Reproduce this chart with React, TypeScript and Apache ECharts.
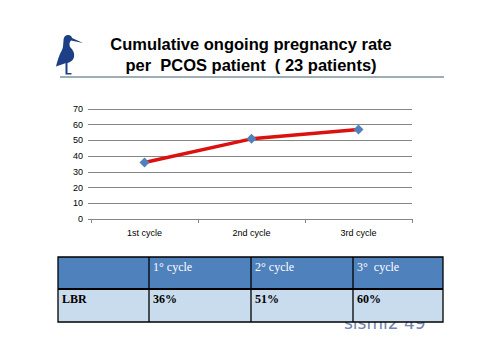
import React, { useEffect, useRef } from "react";
import * as echarts from "echarts";

const categories = ["1st cycle", "2nd cycle", "3rd cycle"];
const rateValues = [36, 51, 57];
const yTicks = { min: 0, max: 70, interval: 10 };
const titleLines = ["Cumulative ongoing pregnancy rate", "per  PCOS patient  ( 23 patients)"];
const tableHeaders = ["", "1° cycle", "2° cycle", "3°  cycle"];
const tableRow = ["LBR", "36%", "51%", "60%"];

const HERON =
  "M68,35 C70.5,35 72,36.5 72,38 L83,43 L71,40.5 C69.5,42 69,44 70,47 C72,49 75,52 74,57 C73,61 69,63 66,63 L56,66.5 C57,62 59,55 62,50 C63.5,47 63,44 63.5,41 C63.5,37 65.5,35 68,35 Z M65.5,62 L67.5,62 L67.5,73 L71.5,73 L71.5,74.5 L65.5,74.5 Z";

let registered = false;
function reg() {
  if (registered) return;
  echarts.graphic.registerShape("heron", echarts.graphic.extendPath(HERON, {}) as any);
  registered = true;
}

export default function App() {
  const ref = useRef<HTMLDivElement>(null);
  useEffect(() => {
    if (!ref.current) return;
    reg();
    const chart = echarts.init(ref.current, undefined, { renderer: "svg" });

    const colX = [58, 149, 251, 353, 443];
    const rowY = [257, 289, 322];
    const tableEls: any[] = [];
    tableEls.push({ type: "rect", shape: { x: colX[0], y: rowY[0], width: colX[4] - colX[0], height: rowY[1] - rowY[0] }, style: { fill: "#4f81bd" } });
    tableEls.push({ type: "rect", shape: { x: colX[0], y: rowY[1], width: colX[4] - colX[0], height: rowY[2] - rowY[1] }, style: { fill: "#c9dcee" } });
    tableEls.push({ type: "rect", shape: { x: colX[0], y: rowY[0], width: colX[4] - colX[0], height: rowY[2] - rowY[0] }, style: { fill: "none", stroke: "#000", lineWidth: 1.3 } });
    tableEls.push({ type: "line", shape: { x1: colX[0], y1: rowY[1], x2: colX[4], y2: rowY[1] }, style: { stroke: "#000", lineWidth: 2 } });
    for (let i = 1; i < 4; i++) {
      tableEls.push({ type: "line", shape: { x1: colX[i], y1: rowY[0], x2: colX[i], y2: rowY[2] }, style: { stroke: "#000", lineWidth: 1.3 } });
    }
    tableHeaders.forEach((t, i) => {
      if (!t) return;
      tableEls.push({ type: "text", x: colX[i] + 4, y: rowY[0] + 4, style: { text: t, fill: "#ffffff", font: "12px 'Liberation Serif', serif", textVerticalAlign: "top" } });
    });
    tableRow.forEach((t, i) => {
      tableEls.push({ type: "text", x: colX[i] + 4, y: rowY[1] + 4, style: { text: t, fill: "#000000", font: "bold 12px 'Liberation Serif', serif", textVerticalAlign: "top" } });
    });

    chart.setOption({
      animation: false,
      backgroundColor: "#ffffff",
      grid: { left: 91, right: 88, top: 109, bottom: 134, containLabel: false },
      xAxis: {
        type: "category",
        data: categories,
        boundaryGap: true,
        axisLine: { show: true, lineStyle: { color: "#868686", width: 1 } },
        axisTick: { show: true, length: 4, lineStyle: { color: "#868686" } },
        axisLabel: { color: "#000", fontSize: 9, fontFamily: "Arial, 'Liberation Sans', sans-serif", margin: 9 },
      },
      yAxis: {
        type: "value",
        min: yTicks.min,
        max: yTicks.max,
        interval: yTicks.interval,
        axisLine: { show: false },
        axisTick: { show: true, length: 3, lineStyle: { color: "#868686" } },
        splitLine: { show: true, lineStyle: { color: "#868686", width: 1 } },
        axisLabel: { color: "#000", fontSize: 9, fontFamily: "Arial, 'Liberation Sans', sans-serif", margin: 8 },
      },
      series: [
        {
          type: "line",
          data: rateValues,
          lineStyle: { color: "#dd1010", width: 3.5 },
          symbol: "diamond",
          symbolSize: 10,
          itemStyle: { color: "#4f81bd" },
          z: 3,
        },
      ],
      graphic: [
        { type: "heron", x: 0, y: 0, style: { fill: "#1c3f86" } },
        { type: "line", shape: { x1: 60, y1: 77, x2: 444, y2: 77 }, style: { stroke: "#3b5e6b", lineWidth: 1 } },
        { type: "text", x: 251, y: 44, style: { text: titleLines[0], fill: "#000", font: "bold 16.5px 'Liberation Sans', Arial, sans-serif", textAlign: "center", textVerticalAlign: "middle" } },
        { type: "text", x: 251, y: 65, style: { text: titleLines[1], fill: "#000", font: "bold 16.5px 'Liberation Sans', Arial, sans-serif", textAlign: "center", textVerticalAlign: "middle" } },
        { type: "text", x: 344, y: 314, style: { text: "sismi2 49", fill: "#7084ad", font: "17px 'DejaVu Sans', sans-serif", textVerticalAlign: "top" } },
        ...tableEls,
      ],
    });
    return () => chart.dispose();
  }, []);
  return <div ref={ref} style={{ position: "absolute", left: 0, top: 0, width: 500, height: 353 }} />;
}
